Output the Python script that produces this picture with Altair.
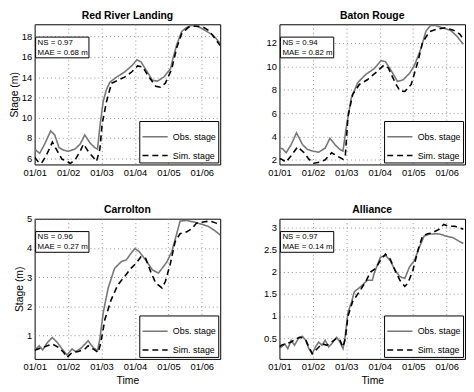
import altair as alt
import pandas as pd

stations = ["Red River Landing", "Baton Rouge", "Carrolton", "Alliance"]
ns_values = [0.97, 0.94, 0.96, 0.97]
mae_values = [0.68, 0.82, 0.27, 0.14]
y_domains = [[5.4, 19.2], [1.6, 13.6], [0.2, 5.0], [0.03, 3.2]]
y_ticks = [[6, 8, 10, 12, 14, 16, 18], [2, 4, 6, 8, 10, 12], [1, 2, 3, 4, 5], [0.5, 1, 1.5, 2, 2.5, 3]]
month_ticks = [0, 1, 2, 3, 4, 5]
series_names = ["Obs. stage", "Sim. stage"]

# Red River Landing (time in months since 01/01)
rrl_obs_t = [0.0, 0.15, 0.3, 0.48, 0.6, 0.73, 0.87, 1.0, 1.2, 1.36, 1.5, 1.66, 1.8, 1.88, 1.95, 2.05, 2.15, 2.25, 2.45, 2.69, 2.9, 3.06, 3.18, 3.37, 3.52, 3.67, 3.86, 4.06, 4.15, 4.25, 4.4, 4.55, 4.7, 4.84, 5.0, 5.14, 5.3, 5.43, 5.55]
rrl_obs_v = [6.9, 6.5, 7.4, 8.7, 8.3, 7.05, 6.8, 6.7, 6.9, 7.4, 8.3, 7.5, 7.05, 6.9, 9.1, 11.6, 12.8, 13.5, 14.0, 14.5, 15.1, 15.7, 15.5, 14.5, 13.7, 13.6, 14.0, 14.8, 16.0, 17.2, 18.5, 18.9, 19.1, 19.0, 18.8, 18.5, 18.2, 17.8, 17.3]
rrl_sim_t = [0.0, 0.1, 0.2, 0.35, 0.53, 0.68, 0.82, 0.92, 1.07, 1.22, 1.36, 1.46, 1.6, 1.75, 1.85, 1.95, 2.02, 2.15, 2.3, 2.5, 2.69, 2.9, 3.08, 3.23, 3.42, 3.62, 3.76, 3.91, 4.1, 4.25, 4.4, 4.6, 4.75, 4.89, 5.05, 5.2, 5.35, 5.55]
rrl_sim_v = [6.1, 5.7, 5.5, 6.3, 7.6, 6.7, 5.9, 5.8, 5.5, 5.9, 6.7, 7.4, 6.7, 6.1, 5.7, 6.9, 9.4, 11.6, 13.4, 13.7, 14.0, 14.5, 15.1, 15.0, 14.0, 13.1, 13.0, 13.4, 14.8, 16.9, 18.3, 18.9, 19.0, 19.0, 18.9, 18.6, 18.0, 17.1]

# Baton Rouge
br_obs_t = [0.0, 0.09, 0.2, 0.35, 0.51, 0.69, 0.83, 0.98, 1.17, 1.37, 1.51, 1.66, 1.8, 1.9, 2.0, 2.15, 2.34, 2.58, 2.83, 3.04, 3.17, 3.36, 3.53, 3.7, 3.89, 4.04, 4.23, 4.38, 4.52, 4.67, 4.86, 5.11, 5.3, 5.5]
br_obs_v = [3.0, 2.95, 2.6, 3.3, 4.3, 3.3, 2.9, 2.75, 2.65, 3.0, 3.85, 3.3, 2.9, 2.75, 4.8, 7.3, 8.6, 9.3, 9.8, 10.5, 10.4, 9.55, 8.7, 8.85, 9.4, 10.1, 11.5, 13.0, 13.5, 13.5, 13.3, 13.1, 12.6, 11.9]
br_sim_t = [0.0, 0.06, 0.2, 0.35, 0.54, 0.74, 0.88, 1.03, 1.22, 1.37, 1.56, 1.71, 1.9, 1.97, 2.05, 2.19, 2.39, 2.63, 2.92, 3.12, 3.26, 3.46, 3.6, 3.75, 3.94, 4.14, 4.28, 4.48, 4.67, 4.96, 5.2, 5.4, 5.5]
br_sim_v = [2.1, 2.05, 1.8, 2.35, 3.1, 2.6, 2.05, 1.7, 1.8, 2.0, 2.6, 2.35, 2.05, 2.35, 5.7, 7.6, 8.45, 8.85, 9.55, 10.1, 9.85, 8.6, 7.9, 7.85, 8.45, 10.4, 12.05, 12.95, 13.15, 13.3, 13.1, 12.75, 12.3]

# Carrolton
ca_obs_t = [0.0, 0.04, 0.14, 0.24, 0.38, 0.53, 0.68, 0.82, 0.97, 1.12, 1.22, 1.36, 1.5, 1.6, 1.75, 1.88, 1.95, 2.05, 2.2, 2.39, 2.59, 2.74, 2.88, 3.0, 3.13, 3.32, 3.52, 3.7, 3.81, 3.96, 4.1, 4.25, 4.35, 4.55, 4.75, 4.94, 5.19, 5.38, 5.55]
ca_obs_v = [0.52, 0.54, 0.65, 0.51, 0.76, 0.93, 0.76, 0.54, 0.33, 0.54, 0.45, 0.54, 0.7, 0.82, 0.59, 0.48, 0.88, 1.78, 2.63, 3.3, 3.53, 3.59, 3.81, 3.98, 3.87, 3.59, 3.25, 3.14, 3.3, 3.53, 3.87, 4.49, 4.92, 4.94, 4.89, 4.83, 4.74, 4.6, 4.44]
ca_sim_t = [0.0, 0.04, 0.24, 0.38, 0.53, 0.72, 0.87, 0.97, 1.12, 1.31, 1.5, 1.6, 1.75, 1.9, 1.98, 2.1, 2.29, 2.49, 2.69, 2.88, 3.03, 3.18, 3.32, 3.47, 3.62, 3.81, 3.91, 4.06, 4.2, 4.35, 4.55, 4.7, 4.84, 5.04, 5.24, 5.43, 5.55]
ca_sim_v = [0.5, 0.51, 0.59, 0.65, 0.71, 0.59, 0.42, 0.25, 0.42, 0.45, 0.54, 0.65, 0.54, 0.42, 0.76, 1.55, 2.23, 2.74, 3.02, 3.3, 3.47, 3.7, 3.64, 3.19, 2.8, 2.63, 2.85, 3.47, 4.21, 4.49, 4.55, 4.66, 4.85, 4.89, 4.92, 4.85, 4.77]

# Alliance
al_obs_t = [0.0, 0.06, 0.16, 0.25, 0.35, 0.45, 0.59, 0.69, 0.79, 0.88, 0.98, 1.08, 1.17, 1.27, 1.37, 1.47, 1.56, 1.71, 1.81, 1.9, 1.95, 2.05, 2.15, 2.24, 2.44, 2.63, 2.78, 2.83, 3.02, 3.17, 3.31, 3.46, 3.6, 3.75, 3.89, 4.04, 4.18, 4.33, 4.48, 4.67, 4.82, 4.96, 5.2, 5.35, 5.5]
al_obs_v = [0.28, 0.3, 0.37, 0.26, 0.45, 0.34, 0.52, 0.54, 0.45, 0.26, 0.15, 0.3, 0.41, 0.34, 0.45, 0.3, 0.37, 0.52, 0.41, 0.26, 0.45, 1.08, 1.3, 1.55, 1.67, 1.81, 1.81, 1.96, 2.33, 2.37, 2.26, 2.03, 1.89, 1.85, 2.11, 2.26, 2.55, 2.81, 2.85, 2.86, 2.85, 2.81, 2.77, 2.7, 2.64]
al_sim_t = [0.0, 0.06, 0.2, 0.35, 0.5, 0.64, 0.79, 0.88, 0.98, 1.13, 1.27, 1.42, 1.56, 1.71, 1.81, 1.9, 1.97, 2.05, 2.19, 2.39, 2.58, 2.73, 2.87, 3.02, 3.17, 3.31, 3.46, 3.6, 3.75, 3.84, 3.99, 4.14, 4.28, 4.43, 4.57, 4.77, 4.91, 5.06, 5.25, 5.5]
al_sim_v = [0.3, 0.34, 0.37, 0.41, 0.49, 0.52, 0.45, 0.3, 0.15, 0.26, 0.37, 0.34, 0.41, 0.5, 0.45, 0.3, 0.49, 1.0, 1.33, 1.55, 1.78, 2.0, 2.07, 2.26, 2.4, 2.29, 2.03, 1.81, 1.67, 1.74, 2.03, 2.48, 2.81, 2.86, 2.88, 2.96, 3.07, 3.03, 3.03, 2.96]

obs_t = [rrl_obs_t, br_obs_t, ca_obs_t, al_obs_t]
obs_v = [rrl_obs_v, br_obs_v, ca_obs_v, al_obs_v]
sim_t = [rrl_sim_t, br_sim_t, ca_sim_t, al_sim_t]
sim_v = [rrl_sim_v, br_sim_v, ca_sim_v, al_sim_v]

FONT = "Liberation Sans"


def panel(i, ytitle, xtitle, title_dy=0):
    df = pd.concat([
        pd.DataFrame({"t": obs_t[i], "v": obs_v[i], "series": series_names[0]}),
        pd.DataFrame({"t": sim_t[i], "v": sim_v[i], "series": series_names[1]}),
    ])
    x_axis = alt.Axis(values=month_ticks, labelExpr="'01/0' + (datum.value + 1)",
                      title=xtitle, labelPadding=3, titlePadding=4, labelOverlap=False,
                      labelFlush=False)
    y_axis = alt.Axis(values=y_ticks[i], format="~g", title=ytitle,
                      labelPadding=3, titlePadding=2)
    lines = alt.Chart(df).mark_line(strokeWidth=1.6, clip=True).encode(
        x=alt.X("t:Q", scale=alt.Scale(domain=[0, 5.55], nice=False, zero=False), axis=x_axis),
        y=alt.Y("v:Q", scale=alt.Scale(domain=y_domains[i], nice=False, zero=False), axis=y_axis),
        color=alt.Color("series:N",
                        scale=alt.Scale(domain=series_names, range=["#777777", "#000000"]),
                        legend=alt.Legend(title=None, orient="bottom-right")),
        strokeDash=alt.StrokeDash("series:N",
                                  scale=alt.Scale(domain=series_names, range=[[1, 0], [6, 4]]),
                                  legend=alt.Legend(title=None, orient="bottom-right")),
    )
    info = pd.DataFrame({"a": [0]})
    box = alt.Chart(info).mark_rect(fill="white", stroke="black", strokeWidth=1).encode(
        x=alt.value(1), x2=alt.value(55), y=alt.value(13), y2=alt.value(34)
    )
    txt = alt.Chart(info).mark_text(align="left", baseline="top", fontSize=8,
                                    lineHeight=10, font=FONT, color="black").encode(
        x=alt.value(3), y=alt.value(15),
        text=alt.value([f"NS = {ns_values[i]:.2f}", f"MAE = {mae_values[i]:.2f} m"])
    )
    return alt.layer(lines, box, txt).properties(
        width=188, height=142, title=alt.TitleParams(stations[i], dy=title_dy)
    )


p1 = panel(0, "Stage (m)", None)
p2 = panel(1, None, None)
p3 = panel(2, "Stage (m)", "Time", title_dy=5)
p4 = panel(3, None, "Time")

chart = alt.concat(p1, p2, p3, p4, columns=2, spacing={"row": 55, "column": 60}).properties(
    bounds="flush", padding=0
).resolve_scale(color="independent", strokeDash="independent").configure(
    font=FONT
).configure_view(
    stroke="black", strokeWidth=1
).configure_axis(
    grid=True, gridDash=[1, 3], gridColor="#777777", gridOpacity=1, gridWidth=0.8,
    ticks=False, domain=False, labelFontSize=9.5, labelColor="black", labelFont=FONT,
    titleFontSize=10.5, titleFontWeight="normal", titleColor="black", titleFont=FONT
).configure_title(
    fontSize=10.5, fontWeight="bold", offset=3, font=FONT, color="black"
).configure_legend(
    strokeColor="black", fillColor="white", padding=2, offset=2,
    labelFontSize=9, labelFont=FONT, labelColor="black", symbolType="stroke",
    symbolSize=650, symbolStrokeWidth=1.6, rowPadding=0, labelOffset=4
)

chart.save("out.html", embed_options={"renderer": "svg", "actions": False})
